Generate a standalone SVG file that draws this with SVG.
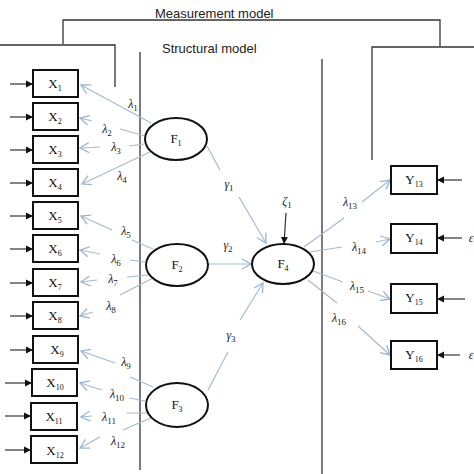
<svg xmlns="http://www.w3.org/2000/svg" width="474" height="474" viewBox="0 0 474 474">
<defs>
<marker id="blk" markerWidth="8" markerHeight="8" refX="7" refY="4" orient="auto" markerUnits="userSpaceOnUse"><path d="M0,0.5 L7,4 L0,7.5 Z" fill="#111"/></marker>
<marker id="blu" markerWidth="12" markerHeight="12" refX="10" refY="6" orient="auto" markerUnits="userSpaceOnUse"><path d="M1,1 L10,6 L1,11" fill="none" stroke="#9fb6d0" stroke-width="1.3"/></marker>
<style>
.box{fill:#fff;stroke:#111;stroke-width:2}
.ell{fill:#fff;stroke:#111;stroke-width:2}
.frame{fill:none;stroke:#333;stroke-width:1.3}
.in{stroke:#333;stroke-width:1.2;fill:none;marker-end:url(#blk)}
.ld{stroke:#a6bad0;stroke-width:1.2;fill:none;marker-end:url(#blu)}
.lds{stroke:#a6bad0;stroke-width:1.2;fill:none}
.nt{font-family:"Liberation Serif",serif;font-size:13px;fill:#111;text-anchor:middle}
.sub{font-size:8px}
.gl{font-family:"Liberation Serif",serif;font-style:italic;font-size:12px;fill:#222;text-anchor:middle}
.gs{font-size:9px;font-style:normal}
.hd{font-family:"Liberation Sans",sans-serif;font-size:13px;fill:#222}
</style>
</defs>
<g id="frames">
<text class="hd" x="155" y="18">Measurement model</text>
<polyline class="frame" points="63,44 63,20 440,20 440,46"/>
<polyline class="frame" points="0,45 115,45 115,87"/>
<polyline class="frame" points="474,47 372,47 372,160"/>
<text class="hd" x="162" y="53">Structural model</text>
<line class="frame" x1="140" y1="52" x2="140" y2="470"/>
<line class="frame" x1="322" y1="59" x2="322" y2="474"/>
</g>
<g id="connectors">
<line class="in" x1="10" y1="84" x2="33" y2="84"/>
<line class="in" x1="10" y1="117" x2="33" y2="117"/>
<line class="in" x1="10" y1="150" x2="33" y2="150"/>
<line class="in" x1="10" y1="183" x2="33" y2="183"/>
<line class="in" x1="10" y1="216" x2="33" y2="216"/>
<line class="in" x1="10" y1="249" x2="33" y2="249"/>
<line class="in" x1="10" y1="283" x2="33" y2="283"/>
<line class="in" x1="10" y1="316" x2="33" y2="316"/>
<line class="in" x1="10" y1="350" x2="33" y2="350"/>
<line class="in" x1="5" y1="383" x2="32" y2="383"/>
<line class="in" x1="5" y1="416" x2="31" y2="416"/>
<line class="in" x1="5" y1="450" x2="31" y2="450"/>
<line class="in" x1="462" y1="180" x2="437" y2="180"/>
<line class="in" x1="462" y1="238" x2="437" y2="238"/>
<line class="in" x1="465" y1="299" x2="437" y2="299"/>
<line class="in" x1="460" y1="355" x2="437" y2="355"/>
<line class="in" x1="286" y1="213" x2="284" y2="244"/>
<path class="ld" d="M151,123 L81,85"/>
<path class="ld" d="M145,136 L120,129 M92,121 L80,118"/>
<path class="ld" d="M144,144 L129,146 M100,147 L80,148"/>
<path class="ld" d="M152,151 L82,184"/>
<path class="ld" d="M153,249 L132,240 M112,230 L81,216"/>
<path class="ld" d="M145,262 L130,260 M100,254 L80,250"/>
<path class="ld" d="M148,275 L127,277 M97,280 L81,282"/>
<path class="ld" d="M153,278 L120,295 M93,312 L80,316"/>
<path class="ld" d="M153,387 L130,377 M115,363 L81,351"/>
<path class="ld" d="M145,401 L129,398 M102,390 L80,383"/>
<path class="ld" d="M147,413 L127,413 M92,416 L81,417"/>
<path class="ld" d="M153,417 L123,430 M100,437 L80,448"/>
<path class="ld" d="M207,146 L220,170 M239,197 L266,243"/>
<path class="ld" d="M209,264 L251,264"/>
<path class="ld" d="M208,390 L228,352 M240,320 L263,283"/>
<path class="ld" d="M304,247 L344,218 M362,202 L390,180"/>
<path class="ld" d="M310,252 L342,247 M376,242 L390,239"/>
<path class="ld" d="M313,271 L343,282 M368,291 L390,299"/>
<path class="ld" d="M308,280 L337,303 M358,326 L390,355"/>
</g>
<g id="labels">
<text class="gl" x="133" y="108">λ<tspan class="gs" dy="3">1</tspan></text>
<text class="gl" x="107" y="133">λ<tspan class="gs" dy="3">2</tspan></text>
<text class="gl" x="116" y="151">λ<tspan class="gs" dy="3">3</tspan></text>
<text class="gl" x="122" y="180">λ<tspan class="gs" dy="3">4</tspan></text>
<text class="gl" x="126" y="235">λ<tspan class="gs" dy="3">5</tspan></text>
<text class="gl" x="116" y="263">λ<tspan class="gs" dy="3">6</tspan></text>
<text class="gl" x="113" y="283">λ<tspan class="gs" dy="3">7</tspan></text>
<text class="gl" x="111" y="310">λ<tspan class="gs" dy="3">8</tspan></text>
<text class="gl" x="126" y="366">λ<tspan class="gs" dy="3">9</tspan></text>
<text class="gl" x="117" y="398">λ<tspan class="gs" dy="3">10</tspan></text>
<text class="gl" x="109" y="421">λ<tspan class="gs" dy="3">11</tspan></text>
<text class="gl" x="118" y="445">λ<tspan class="gs" dy="3">12</tspan></text>
<text class="gl" x="229" y="188">γ<tspan class="gs" dy="3">1</tspan></text>
<text class="gl" x="228" y="249">γ<tspan class="gs" dy="3">2</tspan></text>
<text class="gl" x="231" y="339">γ<tspan class="gs" dy="3">3</tspan></text>
<text class="gl" x="287" y="205">ζ<tspan class="gs" dy="3">1</tspan></text>
<text class="gl" x="350" y="206">λ<tspan class="gs" dy="3">13</tspan></text>
<text class="gl" x="359" y="251">λ<tspan class="gs" dy="3">14</tspan></text>
<text class="gl" x="357" y="290">λ<tspan class="gs" dy="3">15</tspan></text>
<text class="gl" x="339" y="322">λ<tspan class="gs" dy="3">16</tspan></text>
<text class="gl" x="471" y="242">ε</text>
<text class="gl" x="471" y="359">ε</text>
</g>
<g id="X1"><rect class="box" x="33" y="70" width="45" height="27"/><text class="nt" x="55" y="88">X<tspan class="sub" dy="3">1</tspan></text></g>
<g id="X2"><rect class="box" x="33" y="103" width="45" height="27"/><text class="nt" x="55" y="121">X<tspan class="sub" dy="3">2</tspan></text></g>
<g id="X3"><rect class="box" x="33" y="136" width="45" height="27"/><text class="nt" x="55" y="154">X<tspan class="sub" dy="3">3</tspan></text></g>
<g id="X4"><rect class="box" x="33" y="169" width="45" height="27"/><text class="nt" x="55" y="187">X<tspan class="sub" dy="3">4</tspan></text></g>
<g id="X5"><rect class="box" x="33" y="202" width="45" height="27"/><text class="nt" x="55" y="220">X<tspan class="sub" dy="3">5</tspan></text></g>
<g id="X6"><rect class="box" x="33" y="235" width="45" height="27"/><text class="nt" x="55" y="253">X<tspan class="sub" dy="3">6</tspan></text></g>
<g id="X7"><rect class="box" x="33" y="269" width="45" height="27"/><text class="nt" x="55" y="287">X<tspan class="sub" dy="3">7</tspan></text></g>
<g id="X8"><rect class="box" x="33" y="302" width="45" height="27"/><text class="nt" x="55" y="320">X<tspan class="sub" dy="3">8</tspan></text></g>
<g id="X9"><rect class="box" x="33" y="336" width="45" height="27"/><text class="nt" x="57" y="354">X<tspan class="sub" dy="3">9</tspan></text></g>
<g id="X10"><rect class="box" x="32" y="369" width="45" height="27"/><text class="nt" x="55" y="387">X<tspan class="sub" dy="3">10</tspan></text></g>
<g id="X11"><rect class="box" x="31" y="403" width="46" height="27"/><text class="nt" x="54" y="421">X<tspan class="sub" dy="3">11</tspan></text></g>
<g id="X12"><rect class="box" x="31" y="436" width="46" height="27"/><text class="nt" x="55" y="455">X<tspan class="sub" dy="3">12</tspan></text></g>
<g id="F1"><ellipse class="ell" cx="176" cy="139" rx="31" ry="21"/><text class="nt" x="176" y="143">F<tspan class="sub" dy="3">1</tspan></text></g>
<g id="F2"><ellipse class="ell" cx="177" cy="265" rx="31" ry="21"/><text class="nt" x="177" y="269">F<tspan class="sub" dy="3">2</tspan></text></g>
<g id="F3"><ellipse class="ell" cx="177" cy="405" rx="31" ry="22"/><text class="nt" x="177" y="409">F<tspan class="sub" dy="3">3</tspan></text></g>
<g id="F4"><ellipse class="ell" cx="283" cy="264" rx="31" ry="20"/><text class="nt" x="283" y="268">F<tspan class="sub" dy="3">4</tspan></text></g>
<g id="Y13"><rect class="box" x="391" y="166" width="46" height="28"/><text class="nt" x="414" y="184">Y<tspan class="sub" dy="3">13</tspan></text></g>
<g id="Y14"><rect class="box" x="391" y="224" width="46" height="29"/><text class="nt" x="414" y="242">Y<tspan class="sub" dy="3">14</tspan></text></g>
<g id="Y15"><rect class="box" x="391" y="284" width="46" height="29"/><text class="nt" x="414" y="302">Y<tspan class="sub" dy="3">15</tspan></text></g>
<g id="Y16"><rect class="box" x="391" y="341" width="46" height="28"/><text class="nt" x="414" y="359">Y<tspan class="sub" dy="3">16</tspan></text></g>
</svg>
